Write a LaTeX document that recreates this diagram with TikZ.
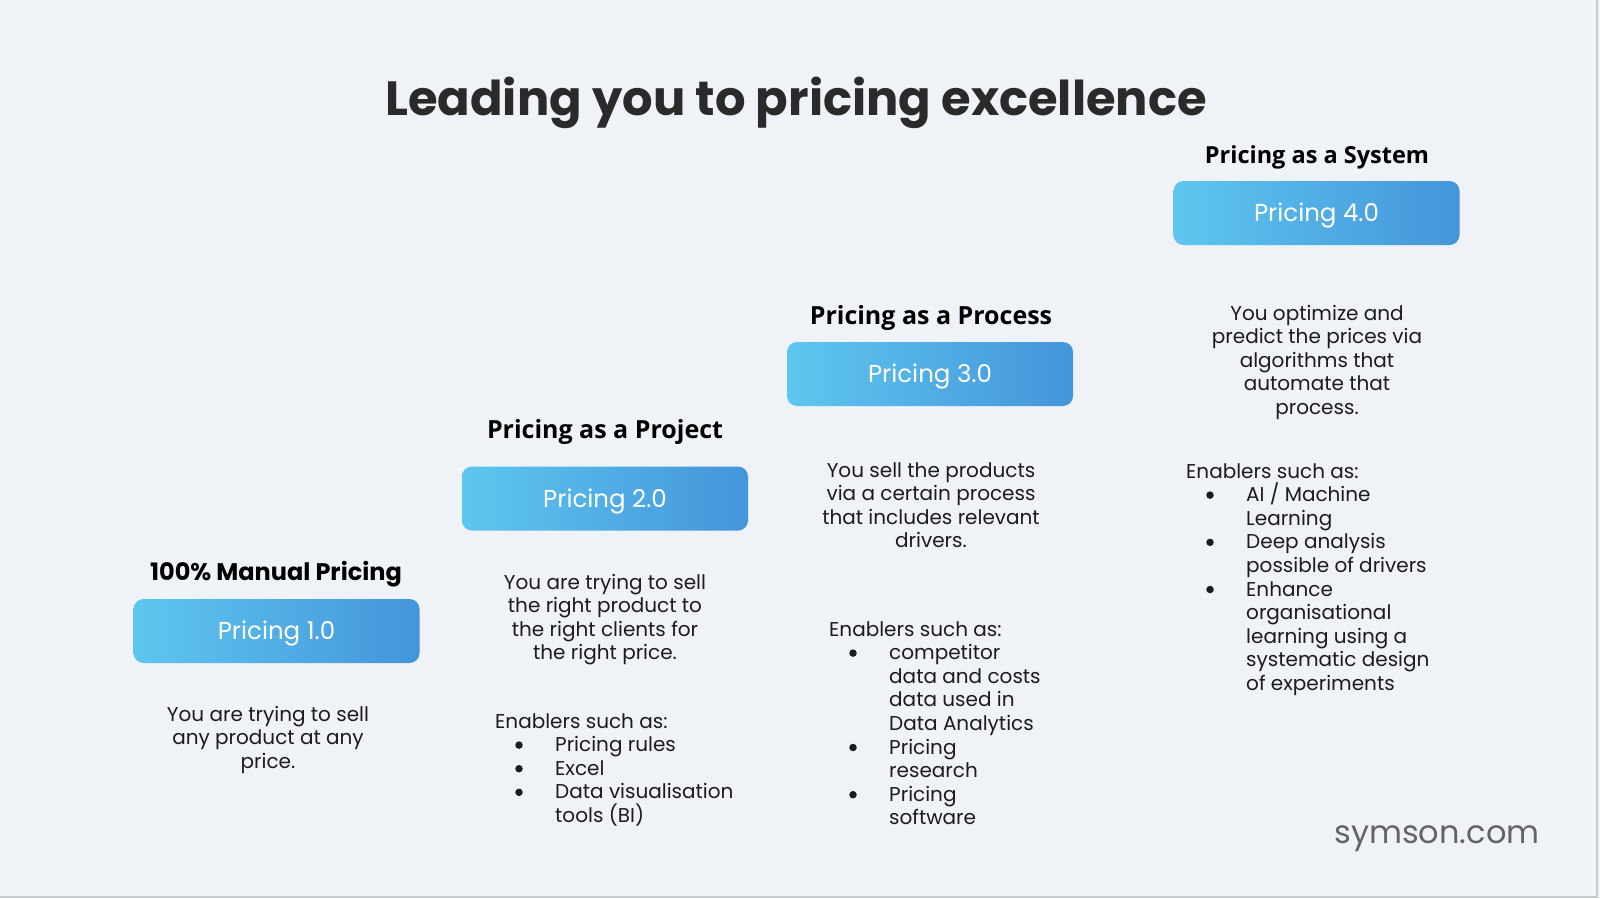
\documentclass[tikz,border=0pt]{standalone}
\usepackage{fontspec}
\setmainfont{Poppins}
\newfontfamily\headfont{Open Sans}
\definecolor{bgc}{HTML}{EFF2F6}
\definecolor{edgec}{HTML}{C9CCCF}
\definecolor{gradL}{HTML}{5EC6EF}
\definecolor{gradR}{HTML}{4495DA}
\definecolor{titlec}{HTML}{2A2A2A}
\definecolor{textc}{HTML}{1C1C1C}
\definecolor{urlc}{HTML}{646464}
\tikzset{
  titlestyle/.style={font=\fontsize{48}{56}\selectfont\bfseries, text=titlec, inner sep=0pt},
  headstyle/.style={font=\headfont\fontsize{25}{30}\selectfont\bfseries, text=black, inner sep=0pt},
  manualhead/.style={font=\fontsize{24}{28}\selectfont\bfseries, text=black, inner sep=0pt},
  pbox/.style={minimum width=286pt, minimum height=64pt, rounded corners=10pt,
    left color=gradL, right color=gradR, draw=none, text=white,
    text height=17pt, text depth=0pt,
    font=\fontsize{24.5}{28}\selectfont},
  desc/.style={font=\fontsize{20}{24}\selectfont, text=textc, inner sep=0pt},
  bul/.style={circle, fill=textc, inner sep=0pt, minimum size=7.5pt},
  urlstyle/.style={font=\fontsize{32}{38}\selectfont, text=urlc, inner sep=0pt},
}
\begin{document}
\begin{tikzpicture}[x=1pt,y=-1pt]
\useasboundingbox (0,0) rectangle (1600,898);
\fill[bgc] (0,0) rectangle (1600,898);
\draw[edgec, line width=1.5pt] (1597,0) -- (1597,897) -- (0,897);

\node[titlestyle, anchor=base] (title) at (796,115) {Leading you to pricing excellence};

% headings
\node[manualhead, anchor=base] (h1) at (276,580) {100\% Manual Pricing};
\node[headstyle, anchor=base] (h2) at (605,438) {Pricing as a Project};
\node[headstyle, anchor=base] (h3) at (931,324) {Pricing as a Process};
\node[headstyle, anchor=base, font=\headfont\fontsize{23.5}{28}\selectfont\bfseries] (h4) at (1317,163) {Pricing as a System};

% boxes
\node[pbox] (b1) at (276.5,631) {Pricing 1.0};
\node[pbox] (b2) at (605,498.5) {Pricing 2.0};
\node[pbox] (b3) at (930,374) {Pricing 3.0};
\node[pbox] (b4) at (1316.5,213) {Pricing 4.0};

% descriptions
\foreach [count=\i] \t in {You are trying to sell, any product at any, price.}
  \node[desc, anchor=base] (d1-\i) at (268,{721+23.6*(\i-1)}) {\t};
\foreach [count=\i] \t in {You are trying to sell, the right product to, the right clients for, the right price.}
  \node[desc, anchor=base] (d2-\i) at (605,{589+23.6*(\i-1)}) {\t};
\foreach [count=\i] \t in {You sell the products, via a certain process, that includes relevant, drivers.}
  \node[desc, anchor=base] (d3-\i) at (931,{477+23.6*(\i-1)}) {\t};
\foreach [count=\i] \t in {You optimize and, predict the prices via, algorithms that, automate that, process.}
  \node[desc, anchor=base] (d4-\i) at (1317,{320+23.6*(\i-1)}) {\t};

% enablers col 2
\node[desc, anchor=base west] (e2) at (495,728) {Enablers such as:};
\foreach [count=\i] \b/\t in {1/{Pricing rules}, 1/{Excel}, 1/{Data visualisation}, 0/{tools (BI)}}{
  \node[desc, anchor=base west] (e2-\i) at (555,{728+23.6*\i}) {\t};
  \ifnum\b=1 \node[bul] (e2b-\i) at (519,{728+23.6*\i-6.5}) {};\fi
}
% enablers col 3
\node[desc, anchor=base west] (e3) at (829,636) {Enablers such as:};
\foreach [count=\i] \b/\t in {1/{competitor}, 0/{data and costs}, 0/{data used in}, 0/{Data Analytics}, 1/{Pricing}, 0/{research}, 1/{Pricing}, 0/{software}}{
  \node[desc, anchor=base west] (e3-\i) at (889,{636+23.6*\i}) {\t};
  \ifnum\b=1 \node[bul] (e3b-\i) at (853,{636+23.6*\i-6.5}) {};\fi
}
% enablers col 4
\node[desc, anchor=base west] (e4) at (1186,478) {Enablers such as:};
\foreach [count=\i] \b/\t in {1/{AI / Machine}, 0/{Learning}, 1/{Deep analysis}, 0/{possible of drivers}, 1/{Enhance}, 0/{organisational}, 0/{learning using a}, 0/{systematic design}, 0/{of experiments}}{
  \node[desc, anchor=base west] (e4-\i) at (1246,{478+23.6*\i}) {\t};
  \ifnum\b=1 \node[bul] (e4b-\i) at (1210,{478+23.6*\i-6.5}) {};\fi
}

\node[urlstyle, anchor=base] (url) at (1437,843) {symson.com};
\end{tikzpicture}
\end{document}
